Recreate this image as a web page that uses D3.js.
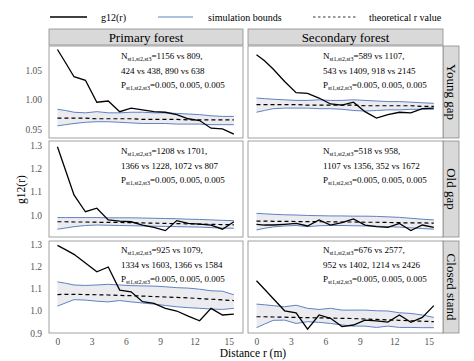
<!DOCTYPE html>
<html>
<head>
<meta charset="utf-8">
<script src="https://cdn.jsdelivr.net/npm/d3@7"></script>
<style>
  body { margin: 0; background: #fff; }
  text { font-family: "Liberation Serif", "DejaVu Serif", serif; }
</style>
</head>
<body>
<div id="chart"></div>
<script>
// distance grid (m)
const r = [0, 0.7, 1.45, 2.45, 3.45, 4.45, 5.45, 6.45, 7.45, 8.45, 9.45, 10.45, 11.45, 12.45, 13.45, 14.45, 15.45];

const colNames = ["Primary forest", "Secondary forest"];
const rowNames = ["Young gap", "Old gap", "Closed stand"];
const xTicks = [0, 3, 6, 9, 12, 15];
const yTicks = [[0.95, 1.00, 1.05], [1.0, 1.1, 1.2, 1.3], [0.9, 1.0, 1.1, 1.2, 1.3]];
const yDomains = [[0.9355, 1.0909], [0.9056, 1.3176], [0.9, 1.3139]];

// young gap, primary
const youngPriObs = [1.085, 1.063, 1.039, 1.033, 0.996, 0.998, 0.980, 0.986, 0.983, 0.980, 0.979, 0.975, 0.968, 0.965, 0.952, 0.951, 0.942];
const youngPriHi = [0.984, 0.982, 0.979, 0.978, 0.980, 0.978, 0.978, 0.979, 0.979, 0.978, 0.978, 0.977, 0.976, 0.975, 0.973, 0.972, 0.972];
const youngPriLo = [0.956, 0.958, 0.960, 0.962, 0.963, 0.963, 0.962, 0.961, 0.960, 0.960, 0.960, 0.959, 0.959, 0.959, 0.958, 0.958, 0.958];
const youngPriTheo = [0.969, 0.969, 0.969, 0.969, 0.968, 0.968, 0.968, 0.968, 0.967, 0.967, 0.967, 0.967, 0.966, 0.966, 0.966, 0.966, 0.966];
// young gap, secondary
const youngSecObs = [1.076, 1.066, 1.052, 1.031, 1.012, 1.011, 1.003, 0.993, 0.991, 0.996, 0.980, 0.969, 0.975, 0.979, 0.978, 0.985, 0.986];
const youngSecHi = [1.003, 1.002, 1.001, 1.000, 0.999, 0.999, 1.000, 0.999, 0.999, 1.000, 0.999, 0.998, 0.997, 0.997, 0.996, 0.995, 0.994];
const youngSecLo = [0.979, 0.982, 0.985, 0.986, 0.986, 0.986, 0.985, 0.985, 0.984, 0.982, 0.981, 0.982, 0.983, 0.983, 0.984, 0.984, 0.984];
const youngSecTheo = [0.992, 0.992, 0.992, 0.992, 0.992, 0.991, 0.991, 0.991, 0.991, 0.991, 0.990, 0.990, 0.990, 0.990, 0.990, 0.989, 0.989];
// old gap, primary
const oldPriObs = [1.293, 1.193, 1.086, 1.014, 1.029, 0.979, 0.974, 0.971, 0.957, 0.947, 0.933, 0.976, 0.964, 0.961, 0.957, 0.939, 0.971];
const oldPriHi = [0.989, 0.989, 0.989, 0.989, 0.989, 0.988, 0.988, 0.988, 0.987, 0.986, 0.985, 0.984, 0.982, 0.981, 0.979, 0.977, 0.976];
const oldPriLo = [0.939, 0.944, 0.950, 0.955, 0.957, 0.956, 0.955, 0.954, 0.953, 0.952, 0.951, 0.950, 0.949, 0.948, 0.946, 0.944, 0.943];
const oldPriTheo = [0.971, 0.971, 0.970, 0.970, 0.969, 0.968, 0.968, 0.967, 0.966, 0.965, 0.964, 0.963, 0.962, 0.961, 0.960, 0.959, 0.958];
// old gap, secondary
const oldSecObs = [0.960, 0.957, 0.957, 0.960, 0.964, 0.953, 0.979, 0.957, 0.967, 0.983, 0.957, 0.950, 0.947, 0.964, 0.933, 0.957, 0.947];
const oldSecHi = [1.007, 1.005, 1.003, 1.001, 1.000, 0.998, 0.997, 0.996, 0.996, 0.995, 0.995, 0.994, 0.992, 0.990, 0.986, 0.982, 0.979];
const oldSecLo = [0.936, 0.943, 0.949, 0.953, 0.955, 0.950, 0.954, 0.955, 0.955, 0.954, 0.953, 0.952, 0.950, 0.948, 0.945, 0.942, 0.939];
const oldSecTheo = [0.974, 0.974, 0.973, 0.973, 0.972, 0.972, 0.971, 0.971, 0.970, 0.970, 0.969, 0.969, 0.968, 0.967, 0.966, 0.966, 0.965];
// closed stand, primary
const closedPriObs = [1.294, 1.275, 1.254, 1.215, 1.175, 1.197, 1.093, 1.085, 1.041, 1.033, 1.011, 0.999, 0.976, 0.955, 1.011, 0.981, 0.985];
const closedPriHi = [1.130, 1.124, 1.116, 1.114, 1.116, 1.119, 1.116, 1.113, 1.112, 1.111, 1.108, 1.104, 1.102, 1.097, 1.090, 1.088, 1.072];
const closedPriLo = [1.021, 1.035, 1.050, 1.048, 1.043, 1.040, 1.046, 1.040, 1.035, 1.030, 1.024, 1.018, 1.014, 1.011, 1.008, 1.006, 1.011];
const closedPriTheo = [1.073, 1.074, 1.074, 1.073, 1.072, 1.071, 1.069, 1.068, 1.066, 1.064, 1.062, 1.060, 1.058, 1.055, 1.052, 1.049, 1.046];
// closed stand, secondary
const closedSecObs = [1.135, 1.097, 1.055, 1.000, 0.991, 0.917, 0.981, 0.966, 0.929, 0.936, 0.958, 0.955, 0.949, 0.981, 0.948, 0.970, 1.023];
const closedSecHi = [1.030, 1.027, 1.023, 1.018, 1.025, 1.011, 1.006, 1.011, 1.003, 1.003, 1.003, 1.000, 0.999, 0.991, 0.988, 0.981, 0.970];
const closedSecLo = [0.924, 0.940, 0.957, 0.958, 0.943, 0.951, 0.948, 0.943, 0.936, 0.931, 0.931, 0.925, 0.931, 0.925, 0.925, 0.924, 0.924];
const closedSecTheo = [0.973, 0.973, 0.972, 0.971, 0.970, 0.969, 0.968, 0.967, 0.966, 0.965, 0.963, 0.961, 0.959, 0.957, 0.955, 0.953, 0.951];

// annotation lines per panel
const nLine1 = [["1156 vs 809,", "589 vs 1107,"], ["1208 vs 1701,", "518 vs 958,"], ["925 vs 1079,", "676 vs 2577,"]];
const nLine2 = [["424 vs 438, 890 vs 638", "543 vs 1409, 918 vs 2145"], ["1366 vs 1228, 1072 vs 807", "1107 vs 1356, 352 vs 1672"], ["1334 vs 1603, 1366 vs 1584", "952 vs 1402, 1214 vs 2426"]];
const pValues = "0.005, 0.005, 0.005";

const panels = [
  [[youngPriObs, youngPriHi, youngPriLo, youngPriTheo], [youngSecObs, youngSecHi, youngSecLo, youngSecTheo]],
  [[oldPriObs, oldPriHi, oldPriLo, oldPriTheo], [oldSecObs, oldSecHi, oldSecLo, oldSecTheo]],
  [[closedPriObs, closedPriHi, closedPriLo, closedPriTheo], [closedSecObs, closedSecHi, closedSecLo, closedSecTheo]]
];

// layout
const W = 474, H = 361;
const colX = [[49, 243], [248, 443]];
const rowY = [[46, 138], [141, 237], [241, 333]];
const stripW = 16, stripH = 16;
const blue = "#5f82c4";
const border = "#8a8a8a";

const svg = d3.select("#chart").append("svg")
  .attr("width", W).attr("height", H);

// legend
const leg = svg.append("g");
leg.append("line").attr("x1", 50).attr("x2", 87).attr("y1", 17).attr("y2", 17)
  .attr("stroke", "#000").attr("stroke-width", 1.3);
leg.append("text").attr("x", 101).attr("y", 21).attr("font-size", 10).text("g12(r)");
leg.append("line").attr("x1", 158).attr("x2", 193).attr("y1", 17).attr("y2", 17)
  .attr("stroke", blue).attr("stroke-width", 1);
leg.append("text").attr("x", 208).attr("y", 21).attr("font-size", 10).text("simulation bounds");
leg.append("line").attr("x1", 313).attr("x2", 357).attr("y1", 17).attr("y2", 17)
  .attr("stroke", "#000").attr("stroke-width", 0.8).attr("stroke-dasharray", "2.5,2.5");
leg.append("text").attr("x", 369).attr("y", 21).attr("font-size", 10).text("theoretical r value");

// column strips
colNames.forEach((name, c) => {
  svg.append("rect").attr("x", colX[c][0]).attr("y", 29)
    .attr("width", colX[c][1] - colX[c][0]).attr("height", stripH)
    .attr("fill", "#d9d9d9").attr("stroke", border).attr("stroke-width", 0.8);
  svg.append("text").attr("x", (colX[c][0] + colX[c][1]) / 2).attr("y", 42)
    .attr("text-anchor", "middle").attr("font-size", 13).text(name);
});

// row strips
rowNames.forEach((name, i) => {
  const x0 = colX[1][1], y0 = rowY[i][0], y1 = rowY[i][1];
  svg.append("rect").attr("x", x0).attr("y", y0)
    .attr("width", stripW).attr("height", y1 - y0)
    .attr("fill", "#d9d9d9").attr("stroke", border).attr("stroke-width", 0.8);
  svg.append("text")
    .attr("transform", `translate(${x0 + 4},${(y0 + y1) / 2}) rotate(90)`)
    .attr("text-anchor", "middle").attr("font-size", 13).text(name);
});

rowNames.forEach((rowName, i) => {
  const y = d3.scaleLinear().domain(yDomains[i]).range([rowY[i][1], rowY[i][0]]);

  // y axis on left column only
  const yAxis = svg.append("g")
    .attr("transform", `translate(${colX[0][0]},0)`)
    .call(d3.axisLeft(y).tickValues(yTicks[i]).tickSize(0).tickPadding(7)
      .tickFormat(d3.format(i === 0 ? ".2f" : ".1f")));
  yAxis.select(".domain").remove();
  yAxis.selectAll("text").attr("font-size", 9.5).attr("fill", "#555")
    .style("font-family", "Liberation Serif");

  colNames.forEach((colName, c) => {
    const x = d3.scaleLinear().domain([-0.74, 16.25]).range(colX[c]);
    const [obs, hi, lo, theo] = panels[i][c];
    const g = svg.append("g");

    g.append("rect").attr("x", colX[c][0]).attr("y", rowY[i][0])
      .attr("width", colX[c][1] - colX[c][0]).attr("height", rowY[i][1] - rowY[i][0])
      .attr("fill", "#fff");

    // envelope
    g.append("path")
      .datum(r.map((d, k) => k))
      .attr("fill", "#ececf0")
      .attr("d", d3.area().x(k => x(r[k])).y0(k => y(lo[k])).y1(k => y(hi[k])));

    const line = vals => d3.line().x((d, k) => x(r[k])).y((d, k) => y(vals[k]))(vals);

    g.append("path").attr("d", line(hi)).attr("fill", "none").attr("stroke", blue).attr("stroke-width", 1);
    g.append("path").attr("d", line(lo)).attr("fill", "none").attr("stroke", blue).attr("stroke-width", 1);
    g.append("path").attr("d", line(theo)).attr("fill", "none").attr("stroke", "#000")
      .attr("stroke-width", 1.2).attr("stroke-dasharray", "4,3");
    g.append("path").attr("d", line(obs)).attr("fill", "none").attr("stroke", "#000")
      .attr("stroke-width", 1.3);

    g.append("rect").attr("x", colX[c][0]).attr("y", rowY[i][0])
      .attr("width", colX[c][1] - colX[c][0]).attr("height", rowY[i][1] - rowY[i][0])
      .attr("fill", "none").attr("stroke", border).attr("stroke-width", 0.8);

    // annotation
    const tx = c === 0 ? 121 : 323;
    const ty = rowY[i][0] + (i === 2 ? 12 : 13);
    const t1 = g.append("text").attr("x", tx).attr("y", ty).attr("font-size", 9);
    t1.append("tspan").text("N");
    t1.append("tspan").attr("font-size", 6).attr("dy", 1.5).text("st1,st2,st3");
    t1.append("tspan").attr("dy", -1.5).text("=" + nLine1[i][c]);
    g.append("text").attr("x", tx).attr("y", ty + 14.5).attr("font-size", 9).text(nLine2[i][c]);
    const t3 = g.append("text").attr("x", tx).attr("y", ty + 29).attr("font-size", 9);
    t3.append("tspan").text("P");
    t3.append("tspan").attr("font-size", 6).attr("dy", 1.5).text("st1,st2,st3");
    t3.append("tspan").attr("dy", -1.5).text("=" + pValues);

    // x axis on bottom row
    if (i === 2) {
      const xAxis = svg.append("g")
        .attr("transform", `translate(0,${rowY[2][1]})`)
        .call(d3.axisBottom(x).tickValues(xTicks).tickSize(0).tickPadding(5));
      xAxis.select(".domain").remove();
      xAxis.selectAll("text").attr("font-size", 9.5).attr("fill", "#555")
        .style("font-family", "Liberation Serif");
    }
  });
});

// axis titles
svg.append("text")
  .attr("transform", `translate(25,${(rowY[0][0] + rowY[2][1]) / 2}) rotate(-90)`)
  .attr("text-anchor", "middle").attr("font-size", 11.5).text("g12(r)");
svg.append("text").attr("x", 253).attr("y", 357)
  .attr("text-anchor", "middle").attr("font-size", 11.5).text("Distance r (m)");
</script>
</body>
</html>
